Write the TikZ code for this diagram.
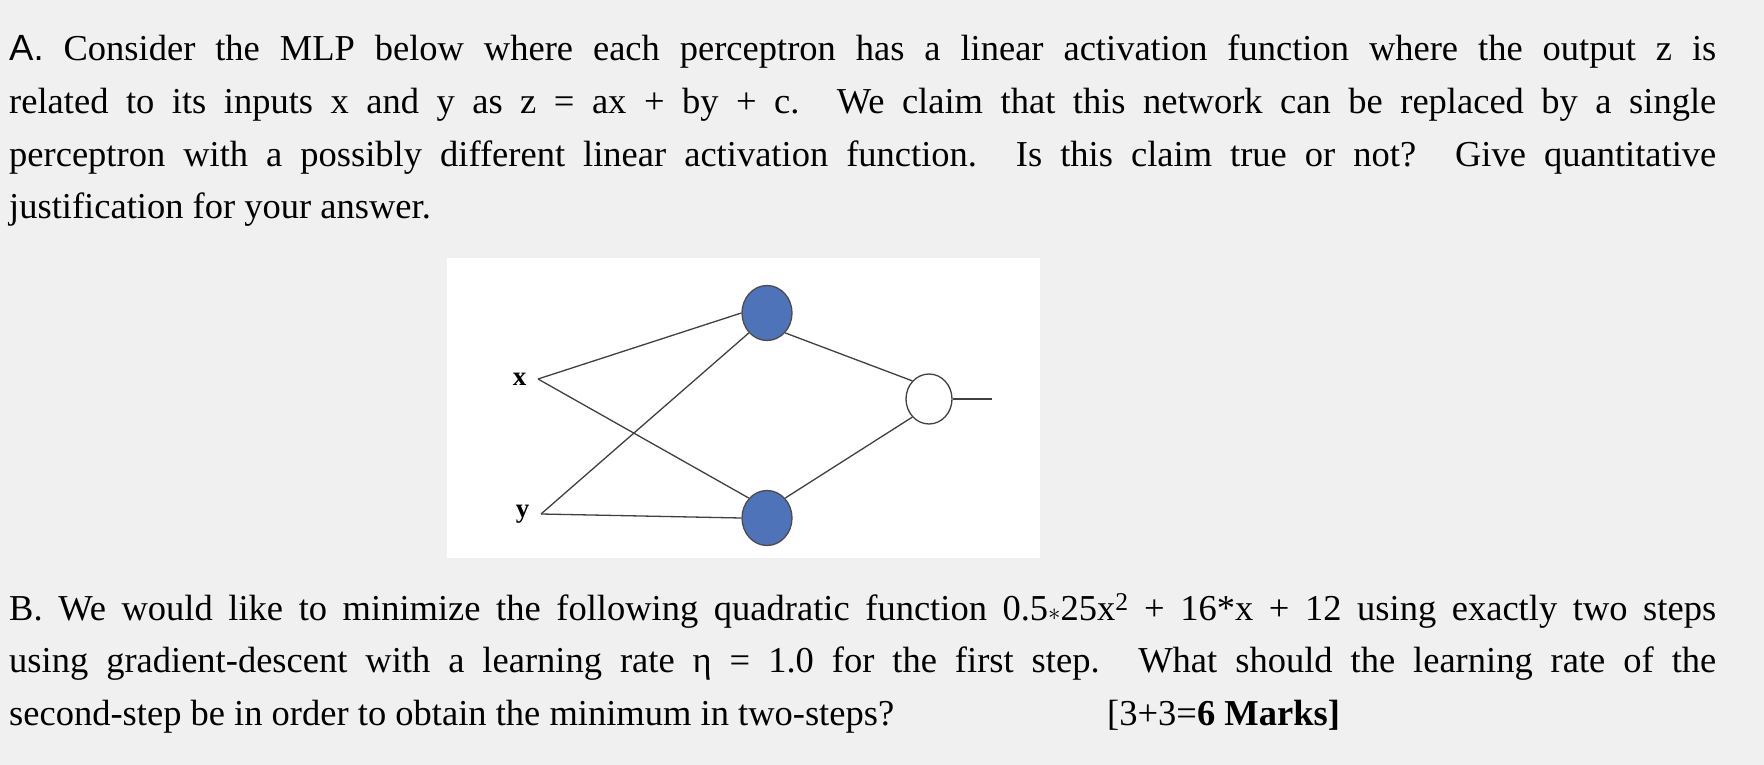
\documentclass[tikz,border=0pt]{standalone}
\usepackage{fontspec}
\setmainfont{Liberation Serif}
\newfontfamily\asans{Liberation Sans}
\usetikzlibrary{shapes.geometric}
\begin{document}
\begin{tikzpicture}[x=1pt,y=-1pt,
  ln/.style={anchor=base west,inner sep=0pt,font=\fontsize{36.5}{44}\selectfont},
  hid/.style={ellipse,draw=black!70,line width=1.3pt,minimum width=50pt,minimum height=55pt,inner sep=0pt},
  conn/.style={draw=black!75,line width=1.3pt}]
\fill[gray!12] (0,0) rectangle (1764,765);
\useasboundingbox (0,0) rectangle (1764,765);
\node[ln] (l1) at (9,61) {\makebox[1707pt][s]{{\asans A.} Consider the MLP below where each perceptron has a linear activation function where the output z is}};
\node[ln] (l2) at (9,114) {\makebox[1707pt][s]{related to its inputs x and y as z = ax + by + c. We claim that this network can be replaced by a single}};
\node[ln] (l3) at (9,166) {\makebox[1707pt][s]{perceptron with a possibly different linear activation function. Is this claim true or not? Give quantitative}};
\node[ln] (l4) at (9,218) {justification for your answer.};
\node[ln] (b1) at (9,620) {\makebox[1707pt][s]{B. We would like to minimize the following quadratic function 0.5$*$25x\textsuperscript{2} + 16*x + 12 using exactly two steps}};
\node[ln] (b2) at (9,672) {\makebox[1707pt][s]{using gradient-descent with a learning rate η = 1.0 for the first step. What should the learning rate of the}};
\node[ln] (b3) at (9,725) {second-step be in order to obtain the minimum in two-steps?};
\node[ln] (mk) at (1107,725) {[3+3=\textbf{6 Marks]}};
\fill[white] (447,258) rectangle (1040,558);
\node[hid,fill={rgb,255:red,79;green,115;blue,185}] (h1) at (767,313) {};
\node[hid,fill={rgb,255:red,79;green,115;blue,185}] (h2) at (767,518) {};
\node[ellipse,draw=black!75,line width=1.3pt,fill=white,minimum width=46pt,minimum height=50pt,inner sep=0pt] (o) at (929,399) {};
\coordinate (x) at (538,379);
\coordinate (y) at (541,514);
\coordinate (out) at (992,399);
\node[font=\fontsize{27}{30}\selectfont\bfseries,anchor=east,xshift=-8pt] (xl) at (x) {x};
\node[font=\fontsize{27}{30}\selectfont\bfseries,anchor=east,xshift=-8pt] (yl) at (y) {y};
\draw[conn] (x) -- (h1.west);
\draw[conn] (x) -- (h2.north west);
\draw[conn] (y) -- (h1.south west);
\draw[conn] (y) -- (h2.west);
\draw[conn] (h1.south east) -- (o.north west);
\draw[conn] (h2.north east) -- (o.south west);
\draw[conn,line width=2pt] (o.east) -- (out);
\end{tikzpicture}
\end{document}
